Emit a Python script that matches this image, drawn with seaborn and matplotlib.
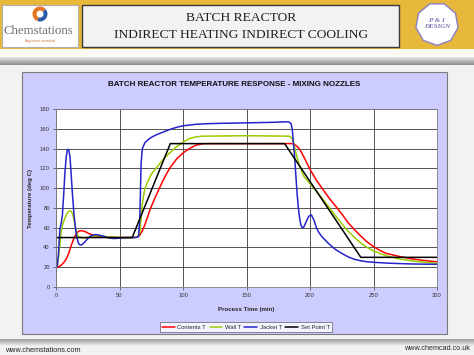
import numpy as np
import matplotlib
matplotlib.use("Agg")
import matplotlib.pyplot as plt
import seaborn as sns
from matplotlib.patches import Rectangle, RegularPolygon, Wedge

# ---- data ----
setpoint_t = [0, 60, 90, 180, 240, 300]
setpoint_T = [50, 50, 145, 145, 30, 30]

contents_t = [0, 2, 4, 6, 8, 10, 12, 14, 16, 18, 20, 23, 26, 30, 35, 40, 50, 60,
              64, 66, 68, 70, 72, 74, 77, 80, 84, 87, 90, 95, 100, 105, 110, 115, 120,
              150, 186, 188, 190, 192, 195, 200, 205, 210, 215, 220, 225, 230, 235,
              240, 245, 250, 255, 260, 270, 280, 290, 300]
contents_T = [20, 20.5, 22, 24.5, 28, 34, 42, 49, 54, 56.5, 57, 56, 54, 52, 51, 50.5, 50, 50,
              50.5, 52.5, 57, 63, 70.5, 78, 87.5, 96, 107, 114.5, 121, 129.5, 135.5, 140, 143.3, 144.8, 145,
              145, 145, 144, 142, 139, 132, 119, 108, 99, 90, 82, 74, 65, 58,
              51.5, 45.5, 41, 37, 34, 31, 28.5, 26.8, 25.5]

wall_t = [0, 1, 2, 3, 4, 5, 6, 7, 8, 9, 10, 11, 12, 13, 14, 15, 16, 17, 18, 20, 23, 27, 32,
          37, 42, 50, 62, 64, 66, 67, 68, 69, 70, 72, 75, 80, 85, 90, 95, 100, 105, 110, 115,
          150, 184, 186, 188, 190, 192, 195, 198, 200, 205, 210, 215, 220, 225, 230, 235,
          240, 245, 250, 260, 270, 280, 290, 300]
wall_T = [20, 22, 30, 42, 55, 62, 66, 69.5, 72.5, 75, 76.5, 77, 76.5, 74, 69, 62, 56, 52.5, 51, 50, 49.5, 51, 52,
          51.5, 50.5, 50, 50, 50.5, 55, 70, 84, 93, 99, 106, 114, 122, 130, 136, 142, 146.5, 150, 151.8, 152.5,
          153, 152.5, 150, 141, 130, 122, 112, 107.5, 104.5, 97, 89, 80.5, 72, 64, 56.5, 50,
          44.5, 40, 36.5, 31.5, 28.5, 26.5, 25, 24]

jacket_t = [0, 1, 2, 3, 4, 5, 6, 7, 8, 9, 10, 11, 12, 13, 14, 15, 16, 17, 18, 19, 20, 22, 25, 28,
            31, 34, 38, 42, 46, 50, 55, 63, 65, 66, 67, 68, 70, 73, 76, 80, 85, 90, 95, 100, 110,
            120, 130, 150, 170, 180, 183, 185, 186, 187, 188, 189, 190, 191, 192, 193, 194, 195,
            197, 199, 201, 203, 205, 207, 210, 215, 220, 225, 230, 235, 240, 245, 250, 260, 270,
            280, 290, 300]
jacket_T = [20, 21, 35, 58, 64, 72, 92, 115, 131, 139, 139, 132, 113, 93, 76, 63, 53, 47, 43.5, 42.5, 42.5, 44.5, 49, 52,
            53, 52.5, 51, 49.5, 49, 49.5, 50, 50, 51, 70, 125, 140, 146, 149.5, 152, 154.5, 157, 159.5, 161.5, 163, 164.5,
            165.2, 165.5, 166, 166.5, 167, 167, 165.5, 160, 145, 130, 110, 92, 78, 68, 62, 60, 60.5,
            66, 71.5, 73, 68, 60, 55, 50, 43.5, 38, 34, 30.5, 28, 26.5, 25.5, 25, 24.2, 23.7,
            23.3, 23.1, 23]

series = [("Contents T", contents_t, contents_T, "#FF0000"),
          ("Wall T", wall_t, wall_T, "#99CC00"),
          ("Jacket T", jacket_t, jacket_T, "#2424C8"),
          ("Set Point T", setpoint_t, setpoint_T, "#000000")]

x_ticks = [0, 50, 100, 150, 200, 250, 300]
y_ticks = [0, 20, 40, 60, 80, 100, 120, 140, 160, 180]

sns.set_style("white")
plt.rcParams['font.family'] = ['Liberation Sans', 'DejaVu Sans']

W, H = 474, 355
fig = plt.figure(figsize=(W / 100, H / 100), dpi=100)
fig.patch.set_facecolor("#F2F2F2")


def px_rect(x0, y0, x1, y1, **kw):
    # rectangle in pixel coords (top-left origin), kept behind the axes
    fig.patches.append(Rectangle((x0 / W, 1 - y1 / H), (x1 - x0) / W, (y1 - y0) / H,
                                 transform=fig.transFigure, zorder=-5, **kw))


def gradient_band(y0, y1, c_top, c_bot):
    ax_g = fig.add_axes([0, 1 - y1 / H, 1, (y1 - y0) / H])
    grad = np.linspace(0, 1, 32)[:, None]
    cmap = matplotlib.colors.LinearSegmentedColormap.from_list("g", [c_top, c_bot])
    ax_g.imshow(grad, aspect="auto", cmap=cmap, extent=[0, 1, 0, 1])
    ax_g.set_axis_off()


# banner
px_rect(0, 0, W, 49, facecolor="#E8B83A", edgecolor="none")
px_rect(0, 49, W, 57, facecolor="#FBFAF2", edgecolor="none")
gradient_band(57, 65, "#E6E6E6", "#8C8C8C")
gradient_band(339, 346, "#8C8C8C", "#F2F2F2")

# logo box
px_rect(2, 5, 78, 47, facecolor="white", edgecolor="#B0B0B0", linewidth=0.8)
ax_logo = fig.add_axes([30 / W, 1 - 24 / H, 20 / W, 20 / H])
ax_logo.set_xlim(-1, 1)
ax_logo.set_ylim(-1, 1)
ax_logo.set_aspect("equal")
ax_logo.set_axis_off()
ax_logo.add_patch(Wedge((0, 0), 0.75, 40, 250, width=0.4, facecolor="#E8731E", edgecolor="none"))
ax_logo.add_patch(Wedge((0, 0), 0.75, 250, 400, width=0.4, facecolor="#2A5BA8", edgecolor="none"))
fig.text(38 / W, 1 - 31 / H, "Chemstations", family="Liberation Serif", fontsize=9.3,
         color="#707070", ha="center", va="center")
fig.text(40 / W, 1 - 41 / H, "Engineers extended", family="Liberation Serif", fontsize=2.8,
         color="#D06020", style="italic", ha="center", va="center")

# title box
px_rect(82, 5, 399, 47, facecolor="#F2F2F2", edgecolor="#3A3A3A", linewidth=1.0)
fig.text(241 / W, 1 - 18 / H, "BATCH REACTOR", family="Liberation Serif", fontsize=9.7,
         color="#202020", ha="center", va="center")
fig.text(241 / W, 1 - 35 / H, "INDIRECT HEATING INDIRECT COOLING", family="Liberation Serif",
         fontsize=9.7, color="#202020", ha="center", va="center")

# P & I octagon
ax_oct = fig.add_axes([414 / W, 1 - 47 / H, 46 / W, 46 / H])
ax_oct.set_xlim(-1, 1)
ax_oct.set_ylim(-1, 1)
ax_oct.set_aspect("equal")
ax_oct.set_axis_off()
ax_oct.add_patch(RegularPolygon((0, 0), numVertices=9, radius=0.93, orientation=np.pi / 9,
                                facecolor="white", edgecolor="#8A7FC8", linewidth=1.0))
ax_oct.text(0, 0.02, "P & I\nDESIGN", family="Liberation Serif", fontsize=5,
            color="#7A78B8", style="italic", weight="bold", ha="center", va="center",
            linespacing=1.1)

# chart panel
px_rect(22, 72, 447, 334, facecolor="#CCCCFF", edgecolor="#7A7A7A", linewidth=0.8)
fig.text(234 / W, 1 - 85 / H, "BATCH REACTOR TEMPERATURE RESPONSE - MIXING NOZZLES",
         fontsize=5.8, weight="bold", color="#111111", ha="center", va="center")

ax = fig.add_axes([56 / W, 1 - 287 / H, (437 - 56) / W, (287 - 109) / H])
ax.set_zorder(5)
ax.set_facecolor("white")
for name, t, T, c in series:
    sns.lineplot(x=t, y=T, ax=ax, color=c, linewidth=1.1, label=name)

ax.set_xlim(0, 300)
ax.set_ylim(0, 180)
ax.set_xticks(x_ticks)
ax.set_yticks(y_ticks)
ax.grid(True, color="#383838", linewidth=0.6)
ax.tick_params(labelsize=4.2, labelcolor="#333333", length=2, width=0.5, color="#404040",
               pad=2.5, bottom=True, left=True)
for s in ax.spines.values():
    s.set_color("#808080")
    s.set_linewidth(0.6)
ax.set_xlabel("Process Time (min)", fontsize=4.4, weight="bold", labelpad=6)
ax.set_ylabel("Temperature (deg C)", fontsize=4.4, weight="bold", labelpad=5)

leg = ax.legend(loc="center", bbox_to_anchor=(246 / W, 1 - 327 / H), bbox_transform=fig.transFigure,
                ncol=4, fontsize=4.2, frameon=True, fancybox=False, handlelength=2.2,
                handletextpad=0.4, columnspacing=0.6, borderpad=0.4)
leg.get_frame().set_edgecolor("#404040")
leg.get_frame().set_linewidth(0.5)

fig.text(5 / W, 1 - 350 / H, "www.chemstations.com", fontsize=5.2, color="#222222",
         ha="left", va="center")
fig.text(470 / W, 1 - 349 / H, "www.chemcad.co.uk", fontsize=5.2, color="#222222",
         ha="right", va="center")

fig.savefig("out.png", dpi=100)
